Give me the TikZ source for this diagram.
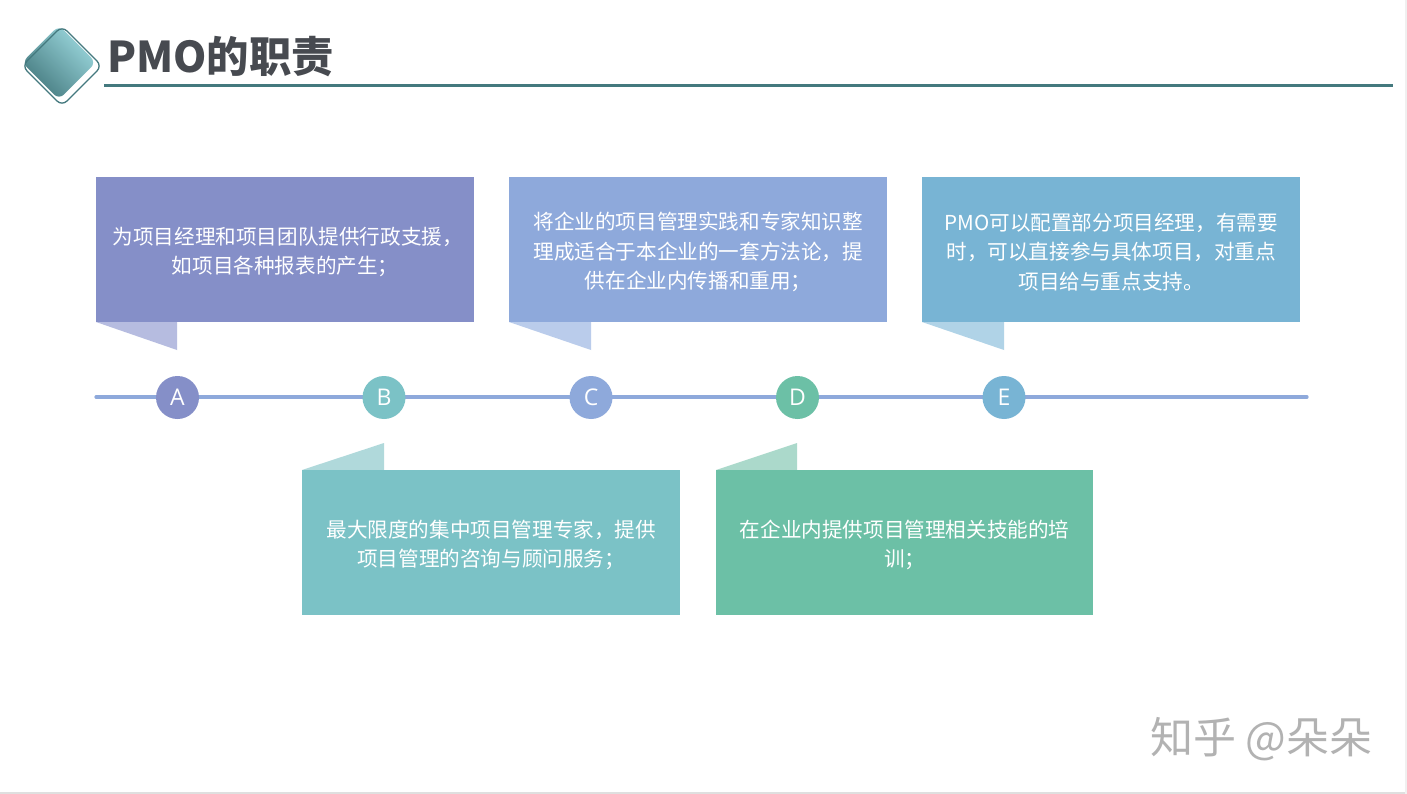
\documentclass[tikz,border=0pt]{standalone}
\usepackage{fontspec}
\setmainfont{Noto Sans CJK SC}
\newfontfamily\latinfont{Open Sans}
\definecolor{cA}{HTML}{858FC8}
\definecolor{cB}{HTML}{7BC2C6}
\definecolor{cC}{HTML}{8EA9DB}
\definecolor{cD}{HTML}{6CC0A6}
\definecolor{cE}{HTML}{78B4D4}
\definecolor{tA}{HTML}{B6BCE0}
\definecolor{tB}{HTML}{B0D9DB}
\definecolor{tC}{HTML}{BACCEB}
\definecolor{tD}{HTML}{ABD9CB}
\definecolor{tE}{HTML}{B0D3E7}
\definecolor{teal}{HTML}{44797E}
\definecolor{emblemlight}{HTML}{9CD8DE}
\definecolor{titlec}{HTML}{474A50}
\newcommand{\cardtop}{\rule{0pt}{22pt}}
\tikzset{
  x=1pt,y=-1pt,
  card/.style={anchor=north west,minimum width=378pt,minimum height=145pt,inner sep=0pt,text=white,
    font=\fontsize{20.6}{29.5}\selectfont,align=center,text width=345pt},
  dot/.style={circle,minimum size=43pt,inner sep=0pt,text=white,font=\latinfont\fontsize{23}{23}\selectfont},
  tl/.style={draw=cC,line width=3.2pt,line cap=round},
}
\begin{document}
\begin{tikzpicture}
\useasboundingbox (0,0) rectangle (1407,794);
\fill[white] (0,0) rectangle (1407,794);
\fill[gray!25] (0,792) rectangle (1407,794);
\fill[gray!12] (1405,0) rectangle (1407,794);
% header emblem
\shade[rounded corners=7pt,shading=axis,left color=teal,right color=emblemlight,shading angle=135]
  (59,25.5) -- (96,62.5) -- (59,99.5) -- (22,62.5) -- cycle;
\draw[teal,line width=1.3pt,rounded corners=7pt] (62,26) -- (102,66) -- (62,106) -- (22,66) -- cycle;
\node[anchor=west,inner sep=0pt,text=titlec,font=\bfseries\fontsize{42.4}{42.4}\selectfont] (title) at (107,57) {PMO的职责};
\coordinate (ruleL) at (104,85.5);
\coordinate (ruleR) at (1393,85.5);
\draw[teal,line width=3pt] (ruleL) -- (ruleR);
% timeline
\coordinate (lineL) at (96,397);
\coordinate (lineR) at (1307,397);
\draw[tl] (lineL) -- (lineR);
\node[dot,fill=cA] (A) at (177.5,397.5) {A};
\node[dot,fill=cB] (B) at (384,397.5) {B};
\node[dot,fill=cC] (C) at (591,397.5) {C};
\node[dot,fill=cD] (D) at (797.5,397.5) {D};
\node[dot,fill=cE] (E) at (1004,397.5) {E};
% tails
\fill[tA] (96,322) -- (177,322) -- (177,350) -- cycle;
\fill[tC] (509,322) -- (591,322) -- (591,350) -- cycle;
\fill[tE] (922,322) -- (1004,322) -- (1004,350) -- cycle;
\fill[tB] (302,470) -- (384,470) -- (384,443) -- cycle;
\fill[tD] (716,470) -- (797,470) -- (797,443) -- cycle;
% cards
\node[card,fill=cA] (cardA) at (96,177) {\cardtop 为项目经理和项目团队提供行政支援，\\如项目各种报表的产生；};
\node[card,fill=cC] (cardC) at (509,177) {\cardtop 将企业的项目管理实践和专家知识整\\理成适合于本企业的一套方法论，提\\供在企业内传播和重用；};
\node[card,fill=cE] (cardE) at (922,177) {\cardtop PMO可以配置部分项目经理，有需要\\时，可以直接参与具体项目，对重点\\项目给与重点支持。};
\node[card,fill=cB] (cardB) at (302,470) {\cardtop 最大限度的集中项目管理专家，提供\\项目管理的咨询与顾问服务；};
\node[card,fill=cD,minimum width=377pt] (cardD) at (716,470) {\cardtop 在企业内提供项目管理相关技能的培\\训；};
% watermark
\node[anchor=west,inner sep=0pt,text=gray!60,font=\fontsize{43}{43}\selectfont] (wm) at (1150,739) {知乎 @朵朵};
\end{tikzpicture}
\end{document}
